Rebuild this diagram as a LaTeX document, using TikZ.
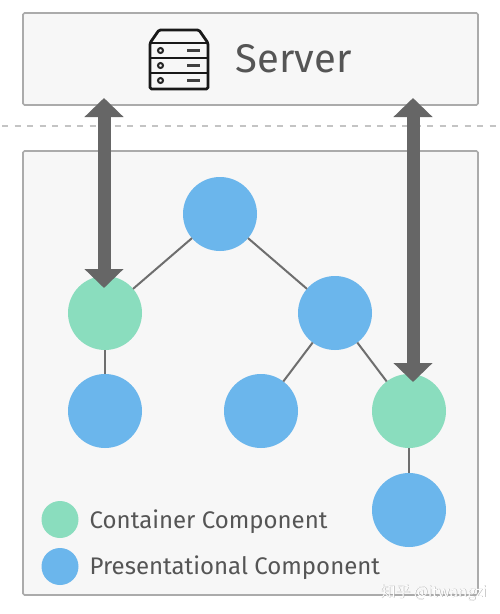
\documentclass[tikz,border=0pt]{standalone}
\usepackage{fontspec}
\setmainfont{Fira Sans}
\newfontfamily\cjk{Noto Sans CJK SC}
\usetikzlibrary{arrows.meta}
\definecolor{boxfill}{HTML}{F7F7F7}
\definecolor{boxline}{HTML}{ABABAB}
\definecolor{blue1}{HTML}{6BB6EC}
\definecolor{green1}{HTML}{8ADDBE}
\definecolor{txt}{HTML}{555555}
\definecolor{arrowc}{HTML}{666666}
\definecolor{edgec}{HTML}{6E6E6E}
\tikzset{
  x=1pt,y=-1pt,
  panel/.style={draw=boxline,line width=1.6pt,fill=boxfill,rounded corners=1.5pt},
  comp/.style={circle,minimum size=74pt,inner sep=0pt,outer sep=0pt},
  bluec/.style={comp,fill=blue1},
  greenc/.style={comp,fill=green1},
  legb/.style={circle,minimum size=37pt,inner sep=0pt,fill=blue1},
  legg/.style={circle,minimum size=37pt,inner sep=0pt,fill=green1},
  edge/.style={draw=edgec,line width=2pt},
  bigarrow/.style={draw=arrowc,line width=13pt,{Triangle[width=38pt,length=19pt]}-{Triangle[width=38pt,length=19pt]}},
  legtext/.style={anchor=base west,text=txt,font=\fontsize{24}{28}\selectfont,inner sep=0pt},
  icon/.style={draw=black!90,line width=2.8pt,line join=round,rounded corners=1.5pt},
}
\begin{document}
\begin{tikzpicture}
\useasboundingbox (0,0) rectangle (500,614);
\fill[white] (0,0) rectangle (500,614);
% panels
\path[panel] (23,13) rectangle (478,105);
\path[panel] (23,151) rectangle (478,595);
\draw[draw=boxline!70,line width=1.5pt,dash pattern=on 6pt off 6.5pt] (2,126) -- (498,126);
% server icon
\draw[icon] (150,89) -- (150,43) -- (159,30) -- (199,30) -- (208,43) -- (208,89) -- cycle;
\draw[draw=black!90,line width=2.6pt] (150,43) -- (208,43) (150,58) -- (208,58) (150,73) -- (208,73);
\foreach \y in {50.5,65.5,80.5}{
  \draw[draw=black!85,line width=2pt] (160.5,\y) circle[radius=2.5pt];
  \draw[draw=black!75,line width=2.4pt] (187,\y) -- (200,\y);
}
\node[text=txt,font=\fontsize{40}{46}\selectfont,inner sep=0pt,anchor=base west] (server) at (235.5,72) {Server};
% nodes
\node[bluec] (root) at (220,214) {};
\node[greenc] (lgreen) at (105,313) {};
\node[bluec] (rblue) at (335,313) {};
\node[bluec] (lleaf) at (105,411) {};
\node[bluec] (mleaf) at (261,411) {};
\node[greenc] (rgreen) at (409,411) {};
\node[bluec] (bleaf) at (409,510) {};
% edges
\draw[edge] (root) -- (lgreen);
\draw[edge] (root) -- (rblue);
\draw[edge] (lgreen) -- (lleaf);
\draw[edge] (rblue) -- (mleaf);
\draw[edge] (rblue) -- (rgreen);
\draw[edge] (rgreen) -- (bleaf);
% big arrows
\coordinate (a1t) at (104,98);
\coordinate (a1b) at (104,288);
\coordinate (a2t) at (413,98);
\coordinate (a2b) at (413,382);
\draw[bigarrow] (a1t) -- (a1b);
\draw[bigarrow] (a2t) -- (a2b);
% legend
\node[legg] (lg) at (60,519.5) {};
\node[legb] (lb) at (60,566.5) {};
\node[legtext] (t1) at (89.5,528) {Container Component};
\node[legtext] (t2) at (89.5,574) {Presentational Component};
% watermark
\node[anchor=east,inner sep=0pt,text=black!35,font=\cjk\fontsize{15}{17}\selectfont] (wm0) at (487.5,593.5) {知乎 @itwangzi};
\node[anchor=east,inner sep=0pt,text=white,font=\cjk\fontsize{15}{17}\selectfont] (wm) at (487,593) {知乎 @itwangzi};
\end{tikzpicture}
\end{document}
